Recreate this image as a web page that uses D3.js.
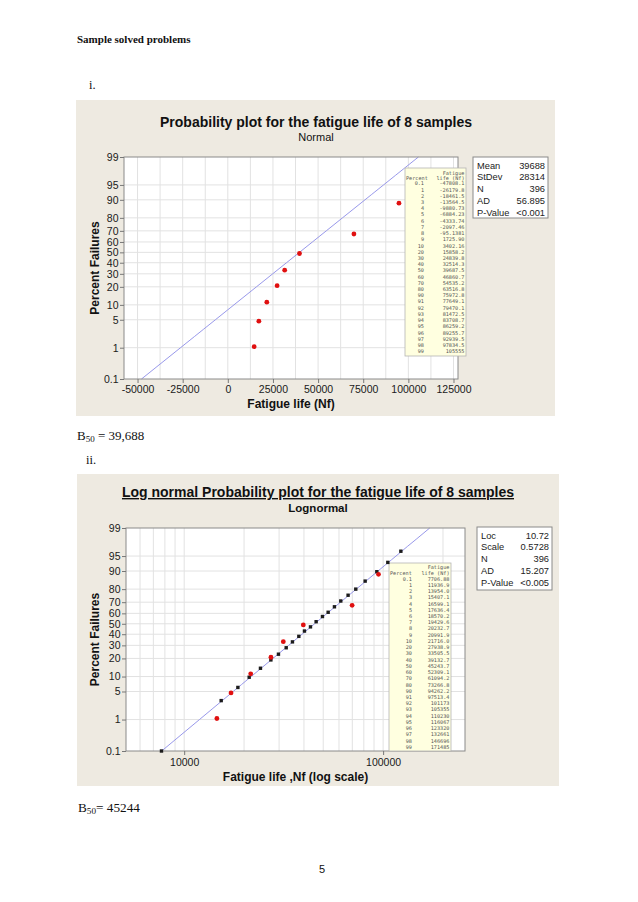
<!DOCTYPE html>
<html>
<head>
<meta charset="utf-8">
<script src="https://cdn.jsdelivr.net/npm/d3@7"></script>
<style>
  body { margin: 0; background: #fff; }
  text { font-family: "Liberation Sans", Arial, sans-serif; }
  .doc { font-family: "Liberation Serif", "Times New Roman", serif; fill: #111; }
</style>
</head>
<body>
<svg id="page" width="638" height="902"></svg>
<script>
// values
var samplePct  = [1.07, 4.65, 11.2, 20.8, 33.2, 48.9, 67.3, 88.5];
var sampleLife = [14600, 17200, 21600, 27300, 31500, 39700, 69850, 94800];

// percentile tables printed inside the plots
var tablePct = [0.1, 1, 2, 3, 4, 5, 6, 7, 8, 9, 10, 20, 30, 40, 50, 60, 70, 80, 90, 91, 92, 93, 94, 95, 96, 97, 98, 99];
var normalLife = [-47808.1, -26179.8, -18461.5, -13564.5, -9880.73, -6884.23, -4333.74, -2097.46, -95.1381, 1725.90,
                  3402.16, 15858.2, 24839.8, 32514.3, 39687.5, 46860.7, 54535.2, 63516.8, 75972.8, 77649.1,
                  79470.1, 81472.5, 83708.7, 86259.2, 89255.7, 92939.5, 97834.5, 105555];
var lognormLife = [7706.88, 11936.9, 13954.0, 15407.1, 16599.1, 17636.4, 18570.2, 19429.6, 20232.7, 20991.9,
                   21716.0, 27938.9, 33505.5, 39132.7, 45243.7, 52309.1, 61094.2, 73266.8, 94262.2, 97513.4,
                   101173, 105355, 110230, 116067, 123320, 132661, 146696, 171485];

// black squares sitting on the lognormal fit
var fitPct  = [0.1, 3.1, 6.1, 9.7, 14, 19, 23, 28, 33, 38, 43, 47, 52, 57, 61, 66, 71, 75.6, 80, 85, 89.7, 93.2, 96.1];
var fitLife = [7690, 15350, 18620, 21220, 24180, 27280, 29780, 32570, 35020, 37700, 40240, 43140, 46060, 49560,
               52930, 56930, 61260, 66670, 72870, 81230, 92980, 105600, 122800];

var yTicks = [0.1, 1, 5, 10, 20, 30, 40, 50, 60, 70, 80, 90, 95, 99];
var normalXTicks = [-50000, -25000, 0, 25000, 50000, 75000, 100000, 125000];
var normalXGrid = d3.range(-50000, 125001, 12500);
var logXTicks = [10000, 100000];
var logXGrid = [6000, 7000, 8000, 9000, 10000, 20000, 30000, 40000, 50000, 60000, 70000, 80000, 90000, 100000, 200000];

var normalStatLabels = ["Mean", "StDev", "N", "AD", "P-Value"];
var normalStatValues = ["39688", "28314", "396", "56.895", "<0.001"];
var lognormStatLabels = ["Loc", "Scale", "N", "AD", "P-Value"];
var lognormStatValues = ["10.72", "0.5728", "396", "15.207", "<0.005"];

// inverse normal cdf (Acklam) for the probability axis
function probit(p) {
  var a = [-39.69683028665376, 220.9460984245205, -275.9285104469687, 138.3577518672690, -30.66479806614716, 2.506628277459239];
  var b = [-54.47609879822406, 161.5858368580409, -155.6989798598866, 66.80131188771972, -13.28068155288572];
  var c = [-0.007784894002430293, -0.3223964580411365, -2.400758277161838, -2.549732539343734, 4.374664141464968, 2.938163982698783];
  var d = [0.007784695709041462, 0.3224671290700398, 2.445134137142996, 3.754408661907416];
  var q, r;
  if (p < 0.02425) {
    q = Math.sqrt(-2 * Math.log(p));
    return (((((c[0]*q+c[1])*q+c[2])*q+c[3])*q+c[4])*q+c[5]) / ((((d[0]*q+d[1])*q+d[2])*q+d[3])*q+1);
  }
  if (p > 1 - 0.02425) {
    q = Math.sqrt(-2 * Math.log(1 - p));
    return -(((((c[0]*q+c[1])*q+c[2])*q+c[3])*q+c[4])*q+c[5]) / ((((d[0]*q+d[1])*q+d[2])*q+d[3])*q+1);
  }
  q = p - 0.5; r = q * q;
  return (((((a[0]*r+a[1])*r+a[2])*r+a[3])*r+a[4])*r+a[5])*q / (((((b[0]*r+b[1])*r+b[2])*r+b[3])*r+b[4])*r+1);
}

var hyphen = d3.formatLocale({decimal: ".", thousands: "", grouping: [3], currency: ["", ""], minus: "-"});
var tableFmt = hyphen.format(".6g");

var svg = d3.select("#page");

function drawChart(cfg) {
  var g = svg.append("g");
  var P = cfg.plot;

  g.append("rect").attr("x", cfg.panel[0]).attr("y", cfg.panel[1])
    .attr("width", cfg.panel[2]).attr("height", cfg.panel[3]).attr("fill", "#eeeae1");

  g.append("text").attr("x", cfg.titleX).attr("y", cfg.titleY).attr("text-anchor", "middle")
    .style("font-size", "14px").style("font-weight", "bold").attr("fill", "#111")
    .style("text-decoration", cfg.underline ? "underline" : "none")
    .text(cfg.title);
  g.append("text").attr("x", cfg.titleX).attr("y", cfg.subY).attr("text-anchor", "middle")
    .style("font-size", cfg.subBold ? "11.5px" : "11px").style("font-weight", cfg.subBold ? "bold" : "normal")
    .attr("fill", "#111").text(cfg.sub);

  g.append("rect").attr("x", P.l).attr("y", P.t).attr("width", P.r - P.l).attr("height", P.b - P.t)
    .attr("fill", "#fff");

  var x = cfg.x.range([P.l, P.r]);
  var y = d3.scaleLinear().domain([probit(0.001), probit(0.99)]).range([P.b, P.t]);
  var yp = function(p) { return y(probit(p / 100)); };

  // grid
  g.append("g").selectAll("line").data(cfg.xGrid).join("line")
    .attr("x1", d => x(d)).attr("x2", d => x(d)).attr("y1", P.t).attr("y2", P.b)
    .attr("stroke", "#e2e2e2").attr("stroke-width", 1);
  g.append("g").selectAll("line").data(yTicks.slice(1, -1)).join("line")
    .attr("x1", P.l).attr("x2", P.r).attr("y1", d => yp(d)).attr("y2", d => yp(d))
    .attr("stroke", "#e2e2e2").attr("stroke-width", 1);

  // fitted line through the percentile table
  var fit = d3.zip(cfg.tableLife, tablePct);
  g.append("path").datum(fit)
    .attr("d", d3.line().x(d => x(d[0])).y(d => yp(d[1])))
    .attr("fill", "none").attr("stroke", "#8c8ce8").attr("stroke-width", 0.9);

  // plot frame
  g.append("rect").attr("x", P.l).attr("y", P.t).attr("width", P.r - P.l).attr("height", P.b - P.t)
    .attr("fill", "none").attr("stroke", "#8a8a8a").attr("stroke-width", 1);

  // percentile table, laid over the frame
  var T = cfg.table;
  var tg = g.append("g").style("font-family", "'DejaVu Sans Mono', monospace").style("font-size", "5.2px")
    .attr("fill", "#555");
  tg.append("rect").attr("x", T.x).attr("y", T.y).attr("width", T.w).attr("height", T.h)
    .attr("fill", "#ffffe0").attr("stroke", "#b4b4b4").attr("stroke-width", 0.8);
  tg.append("text").attr("x", T.x + T.w - 1.5).attr("y", T.h1).attr("text-anchor", "end")
    .style("font-family", "inherit").text("Fatigue");
  tg.append("text").attr("x", T.x + T.w - 1.5).attr("y", T.h2).attr("text-anchor", "end")
    .style("font-family", "inherit").text("life (Nf)");
  tg.append("text").attr("x", T.x + 1).attr("y", T.h2)
    .style("font-family", "inherit").text("Percent");
  tg.selectAll("text.pc").data(tablePct).join("text").attr("class", "pc")
    .attr("x", T.x + T.pc).attr("y", (d, i) => T.r0 + i * T.step).attr("text-anchor", "end")
    .style("font-family", "inherit").text(d => String(d));
  tg.selectAll("text.lv").data(cfg.tableLife).join("text").attr("class", "lv")
    .attr("x", T.x + T.w - 1.5).attr("y", (d, i) => T.r0 + i * T.step).attr("text-anchor", "end")
    .style("font-family", "inherit").text(d => tableFmt(d));

  // black squares on the fit
  if (cfg.squares) {
    g.append("g").selectAll("rect").data(d3.zip(cfg.squares[0], cfg.squares[1])).join("rect")
      .attr("x", d => x(d[0]) - 1.7).attr("y", d => yp(d[1]) - 1.7).attr("width", 3.4).attr("height", 3.4)
      .attr("fill", "#1c1c1c");
  }

  // sample points
  g.append("g").selectAll("circle").data(d3.zip(sampleLife, samplePct)).join("circle")
    .attr("cx", d => x(d[0])).attr("cy", d => yp(d[1])).attr("r", 2.4).attr("fill", "#e01010");

  // axes
  var xa = g.append("g").attr("transform", "translate(0," + P.b + ")")
    .call(d3.axisBottom(x).tickValues(cfg.xTicks).tickFormat(d => String(d)).tickSize(4).tickPadding(cfg.xPad));
  var ya = g.append("g").attr("transform", "translate(" + P.l + ",0)")
    .call(d3.axisLeft(y).tickValues(yTicks.map(p => probit(p / 100)))
      .tickFormat((d, i) => String(yTicks[i])).tickSize(4).tickPadding(1.5));
  [xa, ya].forEach(function(a) {
    a.select(".domain").remove();
    a.selectAll(".tick line").attr("stroke", "#777");
    a.selectAll("text").attr("fill", "#1a1a1a").style("font-size", "10.5px")
      .style("font-family", "'Liberation Sans', Arial, sans-serif");
  });

  g.append("text").attr("x", (P.l + P.r) / 2).attr("y", cfg.xTitleY).attr("text-anchor", "middle")
    .style("font-size", "12px").style("font-weight", "bold").attr("fill", "#111").text(cfg.xTitle);
  g.append("text").attr("transform", "translate(" + cfg.yTitleX + "," + (P.t + P.b) / 2 + ") rotate(-90)")
    .attr("text-anchor", "middle").style("font-size", "12px").style("font-weight", "bold")
    .attr("fill", "#111").text("Percent Failures");

  // stats box
  var S = cfg.stats;
  g.append("rect").attr("x", S.x).attr("y", S.y).attr("width", S.w).attr("height", S.h)
    .attr("fill", "#fff").attr("stroke", "#8a8a8a").attr("stroke-width", 1);
  g.append("g").selectAll("text").data(cfg.statLabels).join("text")
    .attr("x", S.x + 4).attr("y", (d, i) => S.y + 11.5 + i * 11.8)
    .style("font-size", "9.3px").attr("fill", "#222").text(d => d);
  g.append("g").selectAll("text").data(cfg.statValues).join("text")
    .attr("x", S.x + S.w - 3).attr("y", (d, i) => S.y + 11.5 + i * 11.8).attr("text-anchor", "end")
    .style("font-size", "9.3px").attr("fill", "#222").text(d => d);
}

drawChart({
  panel: [76, 100, 479, 316],
  title: "Probability plot for the fatigue life of 8 samples",
  titleX: 316, titleY: 127, sub: "Normal", subY: 141, subBold: false, underline: false,
  plot: {l: 124, r: 458, t: 157, b: 379},
  x: d3.scaleLinear().domain([-57500, 127500]),
  xTicks: normalXTicks, xGrid: normalXGrid, xPad: 3,
  xTitle: "Fatigue life (Nf)", xTitleY: 408, yTitleX: 99,
  tableLife: normalLife,
  table: {x: 405, y: 168, w: 61, h: 188, h1: 174.5, h2: 180, r0: 185.3, step: 6.22, pc: 19},
  stats: {x: 473, y: 157, w: 75, h: 61},
  statLabels: normalStatLabels, statValues: normalStatValues
});

drawChart({
  panel: [77, 474, 482, 312],
  title: "Log normal Probability plot for the fatigue life of 8 samples",
  titleX: 318, titleY: 497, sub: "Lognormal", subY: 512, subBold: true, underline: true,
  plot: {l: 126, r: 465, t: 528, b: 751},
  x: d3.scaleLog().domain([5100, 258000]),
  xTicks: logXTicks, xGrid: logXGrid, xPad: 4,
  xTitle: "Fatigue life ,Nf (log scale)", xTitleY: 781, yTitleX: 99,
  tableLife: lognormLife,
  squares: [fitLife, fitPct],
  table: {x: 389, y: 563, w: 62, h: 188, h1: 569, h2: 575, r0: 580.6, step: 6.23, pc: 23},
  stats: {x: 477, y: 527, w: 75, h: 63},
  statLabels: lognormStatLabels, statValues: lognormStatValues
});

// document text around the charts
svg.append("text").attr("class", "doc").attr("x", 77).attr("y", 43)
  .style("font-size", "11px").style("font-weight", "bold").text("Sample solved problems");
svg.append("text").attr("class", "doc").attr("x", 89).attr("y", 89).style("font-size", "12.5px").text("i.");
var b1 = svg.append("text").attr("class", "doc").attr("x", 77).attr("y", 440).style("font-size", "13px");
b1.append("tspan").text("B");
b1.append("tspan").attr("dy", 2).style("font-size", "9px").text("50");
b1.append("tspan").attr("dy", -2).text(" = 39,688");
svg.append("text").attr("class", "doc").attr("x", 86).attr("y", 464).style("font-size", "12.5px").text("ii.");
var b2 = svg.append("text").attr("class", "doc").attr("x", 78).attr("y", 812).style("font-size", "13px")
  .attr("textLength", 62).attr("lengthAdjust", "spacingAndGlyphs");
b2.append("tspan").text("B");
b2.append("tspan").attr("dy", 2).style("font-size", "9px").text("50");
b2.append("tspan").attr("dy", -2).text("= 45244");
svg.append("text").attr("x", 322).attr("y", 873).attr("text-anchor", "middle")
  .style("font-size", "11px").attr("fill", "#111").text("5");
</script>
</body>
</html>
